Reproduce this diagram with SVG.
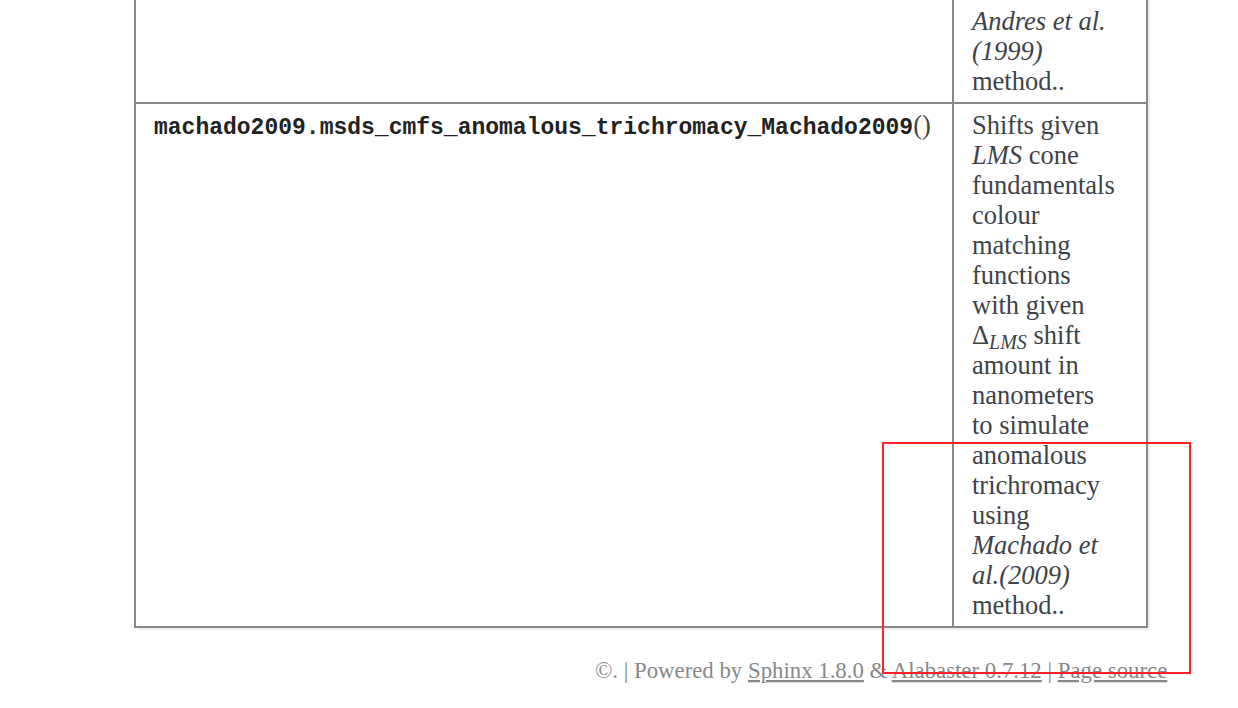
<svg xmlns="http://www.w3.org/2000/svg" width="1238" height="708" viewBox="0 0 1238 708">
<style>
.t{font-family:"Liberation Serif",serif;font-size:26.5px;fill:#3e4349}
.i{font-style:italic}
.m{font-family:"Liberation Mono",monospace;font-size:23px;font-weight:bold;fill:#222}
.f{font-family:"Liberation Serif",serif;font-size:22.8px;fill:#888}
.u{text-decoration:underline}
</style>
<rect width="1238" height="708" fill="#fff"/>
<g id="table" fill="none" stroke="#888" stroke-width="2">
<rect x="138" y="-5" width="1012" height="635" fill="#eee" stroke="none"/>
<rect x="135" y="-5" width="1012" height="632" fill="#fff"/>
<line x1="135" y1="103" x2="1147" y2="103"/>
<line x1="953" y1="-5" x2="953" y2="627"/>
</g>
<g id="row1">
<text class="t i" x="972" y="30">Andres et al.</text>
<text class="t i" x="972" y="60">(1999)</text>
<text class="t" x="972" y="90">method..</text>
</g>
<g id="row2">
<text x="154" y="134"><tspan class="m">machado2009.msds_cmfs_anomalous_trichromacy_Machado2009</tspan><tspan class="t" fill="#222">()</tspan></text>
<text class="t" x="972" y="134">Shifts given</text>
<text class="t" x="972" y="164"><tspan class="i">LMS</tspan> cone</text>
<text class="t" x="972" y="194">fundamentals</text>
<text class="t" x="972" y="224">colour</text>
<text class="t" x="972" y="254">matching</text>
<text class="t" x="972" y="284">functions</text>
<text class="t" x="972" y="314">with given</text>
<text class="t" x="972" y="344">Δ<tspan class="i" font-size="20" dy="5">LMS</tspan><tspan dy="-5"> shift</tspan></text>
<text class="t" x="972" y="374">amount in</text>
<text class="t" x="972" y="404">nanometers</text>
<text class="t" x="972" y="434">to simulate</text>
<text class="t" x="972" y="464">anomalous</text>
<text class="t" x="972" y="494">trichromacy</text>
<text class="t" x="972" y="524">using</text>
<text class="t i" x="972" y="554">Machado et</text>
<text class="t i" x="972" y="584">al.(2009)</text>
<text class="t" x="972" y="614">method..</text>
</g>
<g id="footer">
<text class="f" x="595" y="678">©. | Powered by <tspan class="u">Sphinx 1.8.0</tspan> &amp; <tspan class="u">Alabaster 0.7.12</tspan> | <tspan class="u">Page source</tspan></text>
</g>
<rect id="highlight" x="883" y="443" width="307" height="230" fill="none" stroke="#f22" stroke-width="2"/>
</svg>
